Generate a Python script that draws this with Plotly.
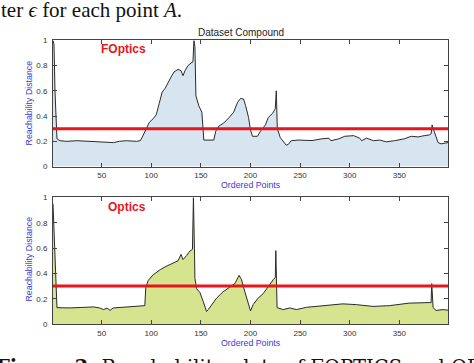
import plotly.graph_objects as go

# ---------------- data ----------------
foptics_x = [1, 2, 3, 4, 5, 8, 15, 25, 35, 45, 55, 58, 62, 68, 75, 85, 89, 92, 95, 98,
             102, 105, 108, 111, 114, 117, 120, 123, 127, 130, 132, 134, 137, 140, 142,
             143, 144, 145, 148, 151, 152, 153, 163, 165, 168, 173, 178, 183, 187, 190,
             193, 195, 198, 200, 202, 207, 210, 215, 218, 222, 224, 225, 226, 227, 230,
             233, 236, 238, 241, 248, 262, 272, 279, 281, 289, 295, 304, 310, 312, 317,
             324, 330, 337, 345, 355, 362, 369, 375, 380, 382, 383, 385, 387, 389, 392,
             395, 399]
foptics_y = [1.0, 0.97, 0.6, 0.33, 0.22, 0.205, 0.2, 0.205, 0.2, 0.2, 0.195, 0.19, 0.19,
             0.2, 0.205, 0.2, 0.205, 0.25, 0.30, 0.35, 0.38, 0.41, 0.5, 0.59, 0.62, 0.67,
             0.71, 0.75, 0.77, 0.76, 0.72, 0.76, 0.80, 0.82, 0.83, 1.0, 0.95, 0.56, 0.48,
             0.43, 0.33, 0.21, 0.21, 0.28, 0.32, 0.345, 0.385, 0.43, 0.51, 0.54, 0.535,
             0.485, 0.39, 0.29, 0.24, 0.24, 0.28, 0.33, 0.39, 0.42, 0.445, 0.46, 0.60,
             0.30, 0.23, 0.2, 0.17, 0.175, 0.205, 0.21, 0.206, 0.22, 0.225, 0.205, 0.22,
             0.24, 0.245, 0.225, 0.205, 0.225, 0.205, 0.21, 0.196, 0.205, 0.22, 0.24,
             0.235, 0.245, 0.25, 0.26, 0.33, 0.28, 0.225, 0.19, 0.18, 0.185, 0.19]

optics_x = [1, 2, 3, 4, 5, 18, 31, 42, 48, 52, 55, 57, 58.5, 60, 62, 72, 82, 93.5, 94.5,
            97, 102, 109, 115, 122, 127, 130, 132, 135.5, 139, 141.5, 142.5, 143.5, 144,
            145.7, 149, 152.3, 155.7, 157.4, 160.8, 165.8, 172.5, 179.2, 184.2, 188.5, 191,
            194.3, 197.6, 200, 202.7, 207.7, 212.7, 217.8, 222.8, 225, 225.5, 226.8, 229.5,
            233, 239.6, 246.3, 256.4, 266.5, 280, 293, 306.7, 323.5, 340, 360, 380, 382,
            382.6, 384, 387, 394, 399]
optics_y = [0.95, 0.75, 0.49, 0.3, 0.13, 0.128, 0.133, 0.136, 0.128, 0.115, 0.125, 0.12,
            0.107, 0.12, 0.128, 0.133, 0.14, 0.146, 0.29, 0.345, 0.39, 0.43, 0.456, 0.48,
            0.5, 0.55, 0.51, 0.54, 0.577, 0.59, 1.0, 0.6, 0.36, 0.28, 0.25, 0.18, 0.10,
            0.115, 0.154, 0.205, 0.256, 0.295, 0.32, 0.385, 0.35, 0.256, 0.166, 0.105,
            0.154, 0.205, 0.24, 0.30, 0.35, 0.37, 0.58, 0.13, 0.123, 0.115, 0.128, 0.115,
            0.133, 0.14, 0.154, 0.16, 0.154, 0.14, 0.146, 0.166, 0.17, 0.17, 0.32, 0.13,
            0.108, 0.115, 0.11]

threshold = 0.3
x_ticks = [50, 100, 150, 200, 250, 300, 350]
y_ticks = [0, 0.2, 0.4, 0.6, 0.8, 1]
y_ticktext = ["0", "0.2", "0.4", "0.6", "0.8", "1"]
x_range = [1, 399]

# ---------------- figure ----------------
W, H = 474, 363
FONT = "Liberation Sans, Arial, sans-serif"
SERIF = "Liberation Serif, Times New Roman, serif"
WIDE_SERIF = "DejaVu Serif, serif"
AXIS_BLUE = "#3a3ad6"
LINE = "#2a2a2a"
RED = "#e8151d"

fig = go.Figure()

fig.add_trace(go.Scatter(x=foptics_x, y=foptics_y, mode="lines", fill="tozeroy",
                         fillcolor="#d7e5f0", line=dict(color=LINE, width=1),
                         xaxis="x", yaxis="y", hoverinfo="skip"))
fig.add_trace(go.Scatter(x=x_range, y=[threshold, threshold], mode="lines",
                         line=dict(color=RED, width=3), xaxis="x", yaxis="y"))

fig.add_trace(go.Scatter(x=optics_x, y=optics_y, mode="lines", fill="tozeroy",
                         fillcolor="#d6e38f", line=dict(color=LINE, width=1),
                         xaxis="x2", yaxis="y2", hoverinfo="skip"))
fig.add_trace(go.Scatter(x=x_range, y=[threshold, threshold], mode="lines",
                         line=dict(color=RED, width=3), xaxis="x2", yaxis="y2"))


def px_x(p):
    return p / W


def px_y(p):
    return 1 - p / H


common_x = dict(range=x_range, tickvals=x_ticks, ticks="inside", ticklen=4,
                tickcolor="#444", showline=True, linecolor="#444", linewidth=1,
                mirror="ticks", showgrid=False, zeroline=False, ticklabelstandoff=1,
                tickfont=dict(family=FONT, size=8, color="#333"))
common_y = dict(range=[0, 1], tickvals=y_ticks, ticktext=y_ticktext, ticks="inside",
                ticklen=4, tickcolor="#444", showline=True, linecolor="#444",
                linewidth=1, mirror="ticks", showgrid=False, zeroline=False,
                ticklabelstandoff=3,
                tickfont=dict(family=FONT, size=8, color="#333"))

fig.update_layout(
    width=W, height=H, margin=dict(l=0, r=0, t=0, b=0),
    paper_bgcolor="white", plot_bgcolor="white", showlegend=False,
    xaxis=dict(domain=[px_x(53), px_x(448)], anchor="y", **common_x),
    yaxis=dict(domain=[px_y(166.7), px_y(37.3)], anchor="x", **common_y),
    xaxis2=dict(domain=[px_x(53), px_x(448)], anchor="y2", **common_x),
    yaxis2=dict(domain=[px_y(328.3), px_y(198.3)], anchor="x2", **common_y),
)

ann = []
# panel labels
ann.append(dict(text="<b>FOptics</b>", x=72.5, y=0.933, xref="x", yref="y",
                xanchor="center", yanchor="middle",
                showarrow=False, font=dict(family=FONT, size=12, color=RED)))
ann.append(dict(text="<b>Optics</b>", x=76, y=0.928, xref="x2", yref="y2",
                xanchor="center", yanchor="middle",
                showarrow=False, font=dict(family=FONT, size=12, color=RED)))
# title
ann.append(dict(text="Dataset Compound", x=px_x(241), y=px_y(29), xref="paper",
                yref="paper", xanchor="center", yanchor="middle", showarrow=False,
                font=dict(family=FONT, size=10, color="#222")))
# axis titles
for yc in (186, 347.5):
    ann.append(dict(text="Ordered Points", x=px_x(250.5), y=px_y(yc), xref="paper",
                    yref="paper", xanchor="center", yanchor="middle", showarrow=False,
                    font=dict(family=FONT, size=8.8, color=AXIS_BLUE)))
for yc in (102, 262):
    ann.append(dict(text="Reachability Distance", x=px_x(29), y=px_y(yc), xref="paper",
                    yref="paper", xanchor="center", yanchor="middle", showarrow=False,
                    textangle=-90,
                    font=dict(family=FONT, size=8.8, color=AXIS_BLUE)))
# surrounding page text
ann.append(dict(text="ter <i>ϵ</i> for each point <i>A</i>.", x=px_x(-1), y=px_y(6),
                xref="paper", yref="paper", xanchor="left", yanchor="middle",
                showarrow=False, font=dict(family=SERIF, size=21, color="#111")))
ann.append(dict(text="<b>Figure 3:</b> Reachability plots of FOPTICS and OPTICS",
                x=px_x(-6), y=px_y(359), xref="paper", yref="paper", xanchor="left",
                yanchor="top", showarrow=False,
                font=dict(family=WIDE_SERIF, size=19.5, color="#111")))

fig.update_layout(annotations=ann)
fig.write_html("out.html", config={"displayModeBar": False},
               post_script="document.body.style.margin='0';document.body.style.overflow='hidden';")
